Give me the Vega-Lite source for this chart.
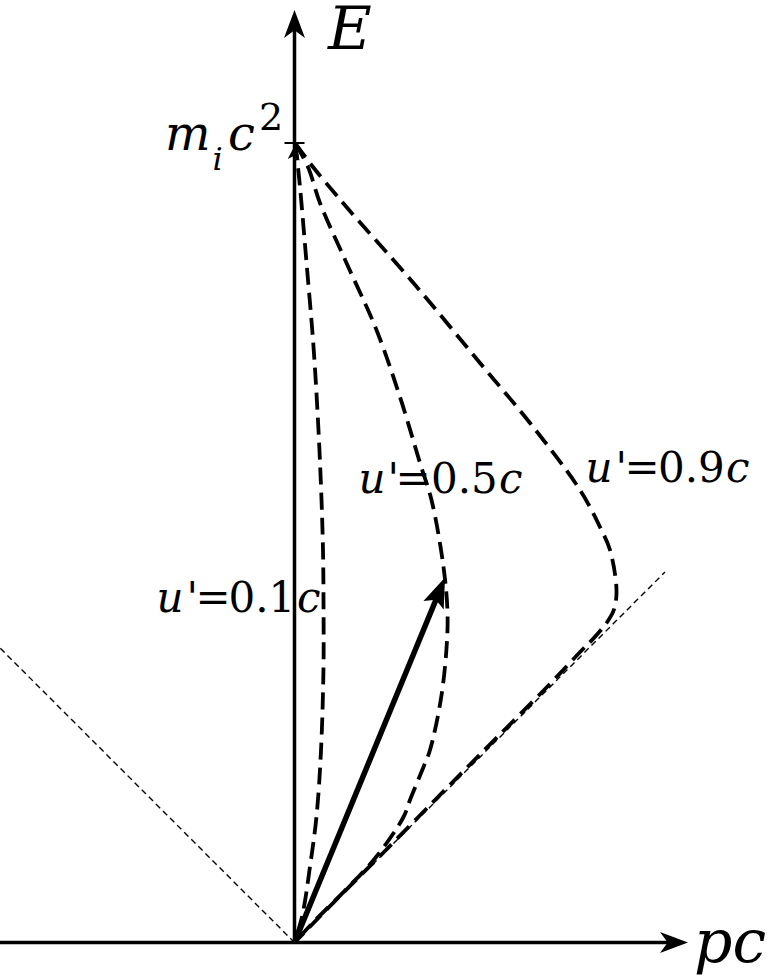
{
  "$schema": "https://vega.github.io/schema/vega-lite/v6.json",
  "width": 771,
  "height": 979,
  "autosize": "none",
  "padding": 0,
  "background": "white",
  "config": {"view": {"stroke": null}, "text": {"font": "DejaVu Serif"}},
  "encoding": {
    "x": {"field": "x", "type": "quantitative", "scale": {"domain": [-294.5, 476.5], "nice": false, "zero": false}, "axis": null},
    "y": {"field": "y", "type": "quantitative", "scale": {"domain": [-36.5, 942.5], "nice": false, "zero": false}, "axis": null}
  },
  "layer": [
    {
      "data": {"values": [
        {"id": "right", "i": 0, "x": 0, "y": 0},
        {"id": "right", "i": 1, "x": 370.5, "y": 370.5},
        {"id": "left", "i": 0, "x": 0, "y": 0},
        {"id": "left", "i": 1, "x": -294.5, "y": 294.5}
      ]},
      "mark": {"type": "line", "color": "black", "strokeWidth": 1.4, "strokeDash": [6, 4]},
      "encoding": {"detail": {"field": "id"}, "order": {"field": "i", "type": "quantitative"}}
    },
    {
      "data": {"values": [
        {"curve": "0.1c", "i": 0, "x": 1, "y": 799},
        {"curve": "0.1c", "i": 1, "x": 5.5, "y": 755.5},
        {"curve": "0.1c", "i": 2, "x": 12, "y": 680},
        {"curve": "0.1c", "i": 3, "x": 19, "y": 596},
        {"curve": "0.1c", "i": 4, "x": 24, "y": 512},
        {"curve": "0.1c", "i": 5, "x": 27, "y": 443},
        {"curve": "0.1c", "i": 6, "x": 28.5, "y": 392},
        {"curve": "0.1c", "i": 7, "x": 29, "y": 342},
        {"curve": "0.1c", "i": 8, "x": 29, "y": 276},
        {"curve": "0.1c", "i": 9, "x": 26.5, "y": 192},
        {"curve": "0.1c", "i": 10, "x": 22, "y": 126},
        {"curve": "0.1c", "i": 11, "x": 15.5, "y": 76},
        {"curve": "0.1c", "i": 12, "x": 8, "y": 28},
        {"curve": "0.1c", "i": 13, "x": 0, "y": 0},
        {"curve": "0.5c", "i": 0, "x": 1, "y": 799},
        {"curve": "0.5c", "i": 1, "x": 13.5, "y": 775.5},
        {"curve": "0.5c", "i": 2, "x": 25.5, "y": 739.5},
        {"curve": "0.5c", "i": 3, "x": 52, "y": 679.5},
        {"curve": "0.5c", "i": 4, "x": 82, "y": 612.5},
        {"curve": "0.5c", "i": 5, "x": 105.5, "y": 545.5},
        {"curve": "0.5c", "i": 6, "x": 125.5, "y": 479.5},
        {"curve": "0.5c", "i": 7, "x": 137, "y": 442.5},
        {"curve": "0.5c", "i": 8, "x": 149, "y": 375.5},
        {"curve": "0.5c", "i": 9, "x": 153, "y": 330},
        {"curve": "0.5c", "i": 10, "x": 152, "y": 294},
        {"curve": "0.5c", "i": 11, "x": 146.5, "y": 244},
        {"curve": "0.5c", "i": 12, "x": 135.5, "y": 192.5},
        {"curve": "0.5c", "i": 13, "x": 129, "y": 175.5},
        {"curve": "0.5c", "i": 14, "x": 115.5, "y": 142.5},
        {"curve": "0.5c", "i": 15, "x": 109, "y": 125.5},
        {"curve": "0.5c", "i": 16, "x": 82, "y": 86},
        {"curve": "0.5c", "i": 17, "x": 55.5, "y": 57},
        {"curve": "0.5c", "i": 18, "x": 21, "y": 22.5},
        {"curve": "0.5c", "i": 19, "x": 0, "y": 0},
        {"curve": "0.9c", "i": 0, "x": 1, "y": 799},
        {"curve": "0.9c", "i": 1, "x": 18.5, "y": 775.5},
        {"curve": "0.9c", "i": 2, "x": 52, "y": 735.5},
        {"curve": "0.9c", "i": 3, "x": 119, "y": 659.5},
        {"curve": "0.9c", "i": 4, "x": 185.5, "y": 579.5},
        {"curve": "0.9c", "i": 5, "x": 235.5, "y": 519.5},
        {"curve": "0.9c", "i": 6, "x": 285.5, "y": 452.5},
        {"curve": "0.9c", "i": 7, "x": 305.5, "y": 415.5},
        {"curve": "0.9c", "i": 8, "x": 315.5, "y": 392.5},
        {"curve": "0.9c", "i": 9, "x": 322, "y": 352},
        {"curve": "0.9c", "i": 10, "x": 319.5, "y": 333},
        {"curve": "0.9c", "i": 11, "x": 312, "y": 319.5},
        {"curve": "0.9c", "i": 12, "x": 298.5, "y": 303.5},
        {"curve": "0.9c", "i": 13, "x": 288.5, "y": 293.5},
        {"curve": "0.9c", "i": 14, "x": 252, "y": 255},
        {"curve": "0.9c", "i": 15, "x": 185.5, "y": 188},
        {"curve": "0.9c", "i": 16, "x": 142, "y": 144},
        {"curve": "0.9c", "i": 17, "x": 90, "y": 91},
        {"curve": "0.9c", "i": 18, "x": 45, "y": 46},
        {"curve": "0.9c", "i": 19, "x": 0, "y": 0}
      ]},
      "mark": {"type": "line", "color": "black", "strokeWidth": 3.8, "strokeDash": [17, 8], "interpolate": "catmull-rom"},
      "encoding": {"detail": {"field": "curve"}, "order": {"field": "i", "type": "quantitative"}}
    },
    {
      "data": {"values": [
        {"id": "pc", "i": 0, "x": -294.5, "y": 0},
        {"id": "pc", "i": 1, "x": 380, "y": 0},
        {"id": "E", "i": 0, "x": 0, "y": 0},
        {"id": "E", "i": 1, "x": 0, "y": 918}
      ]},
      "mark": {"type": "line", "color": "black", "strokeWidth": 3.5},
      "encoding": {"detail": {"field": "id"}, "order": {"field": "i", "type": "quantitative"}}
    },
    {
      "data": {"values": [
        {"id": "tick", "i": 0, "x": -10, "y": 799.5},
        {"id": "tick", "i": 1, "x": 10, "y": 799.5}
      ]},
      "mark": {"type": "line", "color": "black", "strokeWidth": 2},
      "encoding": {"order": {"field": "i", "type": "quantitative"}}
    },
    {
      "data": {"values": [
        {"id": "vector", "i": 0, "x": 0, "y": 0},
        {"id": "vector", "i": 1, "x": 143, "y": 346.5}
      ]},
      "mark": {"type": "line", "color": "black", "strokeWidth": 5.5},
      "encoding": {"order": {"field": "i", "type": "quantitative"}}
    },
    {
      "data": {"values": [{"x": 0, "y": 932.5}]},
      "mark": {"type": "point", "shape": "M0,0L0.75,2L0,1.45L-0.75,2Z", "size": 784, "filled": true, "color": "black", "opacity": 1, "strokeWidth": 0, "angle": 0}
    },
    {
      "data": {"values": [{"x": 393.5, "y": 0}]},
      "mark": {"type": "point", "shape": "M0,0L0.75,2L0,1.45L-0.75,2Z", "size": 784, "filled": true, "color": "black", "opacity": 1, "strokeWidth": 0, "angle": 90}
    },
    {
      "data": {"values": [{"x": 150.5, "y": 365}]},
      "mark": {"type": "point", "shape": "M0,0L0.73,2L0,1.6L-0.73,2Z", "size": 900, "filled": true, "color": "black", "opacity": 1, "strokeWidth": 0, "angle": 22.4}
    },
    {
      "data": {"values": [{"x": 1.5, "y": 799.5}]},
      "mark": {"type": "point", "shape": "M0,0L0.7,2L0,1.5L-0.7,2Z", "size": 289, "filled": true, "color": "black", "opacity": 1, "strokeWidth": 0, "angle": 8}
    },
    {
      "data": {"values": [
        {"t": "E", "x": 33.5, "y": 894}
      ]},
      "mark": {"type": "text", "fontStyle": "italic", "fontSize": 60, "align": "left", "baseline": "alphabetic", "color": "black"},
      "encoding": {"text": {"field": "t"}}
    },
    {
      "data": {"values": [
        {"t": "pc", "x": 399.5, "y": -19.5}
      ]},
      "mark": {"type": "text", "fontStyle": "italic", "fontSize": 60, "align": "left", "baseline": "alphabetic", "color": "black"},
      "encoding": {"text": {"field": "t"}}
    },
    {
      "data": {"values": [
        {"t": "m", "x": -129.5, "y": 792.5},
        {"t": "c", "x": -66.5, "y": 792.5}
      ]},
      "mark": {"type": "text", "fontStyle": "italic", "fontSize": 48, "align": "left", "baseline": "alphabetic", "color": "black"},
      "encoding": {"text": {"field": "t"}}
    },
    {
      "data": {"values": [{"t": "i", "x": -82, "y": 772.5}]},
      "mark": {"type": "text", "fontStyle": "italic", "fontSize": 32, "align": "left", "baseline": "alphabetic", "color": "black"},
      "encoding": {"text": {"field": "t"}}
    },
    {
      "data": {"values": [{"t": "2", "x": -35.5, "y": 812.5}]},
      "mark": {"type": "text", "fontSize": 38, "align": "left", "baseline": "alphabetic", "color": "black"},
      "encoding": {"text": {"field": "t"}}
    },
    {
      "data": {"values": [
        {"t": "u", "x": -138, "y": 330.5},
        {"t": "c", "x": 2.5, "y": 330.5},
        {"t": "u", "x": 64, "y": 449.5},
        {"t": "c", "x": 204.5, "y": 449.5},
        {"t": "u", "x": 291, "y": 460.5},
        {"t": "c", "x": 431.5, "y": 460.5}
      ]},
      "mark": {"type": "text", "fontStyle": "italic", "fontSize": 42, "align": "left", "baseline": "alphabetic", "color": "black"},
      "encoding": {"text": {"field": "t"}}
    },
    {
      "data": {"values": [
        {"t": "'", "x": -108, "y": 330.5},
        {"t": "=", "x": -99, "y": 330.5},
        {"t": "0.1", "x": -66, "y": 330.5},
        {"t": "'", "x": 93, "y": 449.5},
        {"t": "=", "x": 101, "y": 449.5},
        {"t": "0.5", "x": 136.5, "y": 449.5},
        {"t": "'", "x": 321, "y": 460.5},
        {"t": "=", "x": 330, "y": 460.5},
        {"t": "0.9", "x": 363.5, "y": 460.5}
      ]},
      "mark": {"type": "text", "fontSize": 42, "align": "left", "baseline": "alphabetic", "color": "black"},
      "encoding": {"text": {"field": "t"}}
    }
  ]
}
